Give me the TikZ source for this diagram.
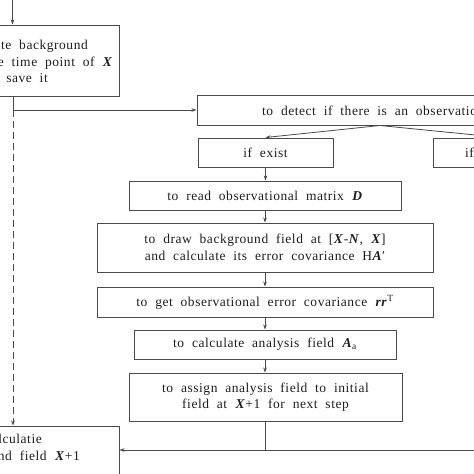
\documentclass[tikz,border=0pt]{standalone}
\usepackage{fontspec}
\setmainfont{Liberation Serif}
\newfontfamily\boxfont[WordSpace=2.0,LetterSpace=4]{Liberation Serif}
\usetikzlibrary{arrows.meta}
\definecolor{linecol}{HTML}{4A4A4A}
\definecolor{textcol}{HTML}{1E1E1E}
\tikzset{
  box/.style={draw=linecol, line width=1pt, inner sep=0pt, align=center,
    font=\boxfont\fontsize{13.5}{16.5}\selectfont, text=textcol},
  txt/.style={inner sep=0pt, align=center, font=\boxfont\fontsize{13.5}{16.5}\selectfont, text=textcol},
  arr/.style={draw=linecol, line width=0.8pt, -{Stealth[length=5pt,width=3.6pt]}},
  ln/.style={draw=linecol, line width=0.8pt},
}
\newcommand{\bi}[1]{\textbf{\textit{#1}}}
\begin{document}
\begin{tikzpicture}[x=1pt,y=-1pt]
\useasboundingbox (0,0) rectangle (474,474);
\clip (0,0) rectangle (474,474);
\fill[white] (0,0) rectangle (474,474);
% boxes
\node[box, minimum width=180, minimum height=71] (tl) at (29,60.5) {};
\node[txt, anchor=base east] (tltext1) at (88,49) {to calculate background};
\node[txt, anchor=base east] (tltext2) at (113,66) {field at the time point of \bi{X}};
\node[txt, anchor=base east] (tltext3) at (48,82) {and save it};
\node[box, minimum width=366, minimum height=30] (detect) at (380,110) {};
\node[txt, anchor=west] (detecttext) at (262,110.5) {to detect if there is an observation};
\node[box, minimum width=135, minimum height=29] (ifexist) at (265.5,152.5) {if exist};
\node[box, minimum width=135, minimum height=29] (ifnot) at (500.5,152.5) {};
\node[txt, anchor=west] (ifnottext) at (465,152.5) {if not exist};
\node[box, minimum width=272, minimum height=29] (read) at (265,195.5) {to read observational matrix \bi{D}};
\node[box, minimum width=336, minimum height=49] (drawbg) at (265,247.5) {to draw background field at [\bi{X}-\bi{N}, \bi{X}]\\and calculate its error covariance H\bi{A}′};
\node[box, minimum width=336, minimum height=30] (getobs) at (265,302) {to get observational error covariance \bi{rr}\textsuperscript{T}};
\node[box, minimum width=262, minimum height=29] (calc) at (265,344.5) {to calculate analysis field \bi{A}\textsubscript{a}};
\node[box, minimum width=273, minimum height=48] (assign) at (265.5,397) {to assign analysis field to initial\\field at \bi{X}+1 for next step};
\node[box, minimum width=180, minimum height=71] (bl) at (29,461.5) {};
\node[txt, anchor=base east] (bltext1) at (42,443) {to calculatie};
\node[txt, anchor=base east] (bltext2) at (80,460) {background field \bi{X}+1};
% coordinates
\coordinate (top0) at (12.5,-5);
\coordinate (j1) at (13,110);
\coordinate (j2) at (265.5,450);
\coordinate (r0) at (490,450);
% connectors
\draw[arr] (top0) -- (top0 |- tl.north);
\draw[ln] (j1 |- tl.south) -- (j1);
\draw[arr] (j1) -- (detect.west);
\draw[arr, dash pattern=on 7pt off 4pt] (j1) -- (j1 |- bl.north);
\draw[arr] (detect.south) -- (ifexist.north);
\draw[arr] (detect.south) -- (ifnot.north);
\draw[arr] (ifexist.south) -- (ifexist.south |- read.north);
\draw[arr] (read.south) -- (drawbg.north);
\draw[arr] (drawbg.south) -- (getobs.north);
\draw[arr] (getobs.south) -- (calc.north);
\draw[arr] (calc.south) -- (calc.south |- assign.north);
\draw[ln] (assign.south) -- (j2);
\draw[arr] (r0) -- (r0 -| bl.east);
\end{tikzpicture}
\end{document}
